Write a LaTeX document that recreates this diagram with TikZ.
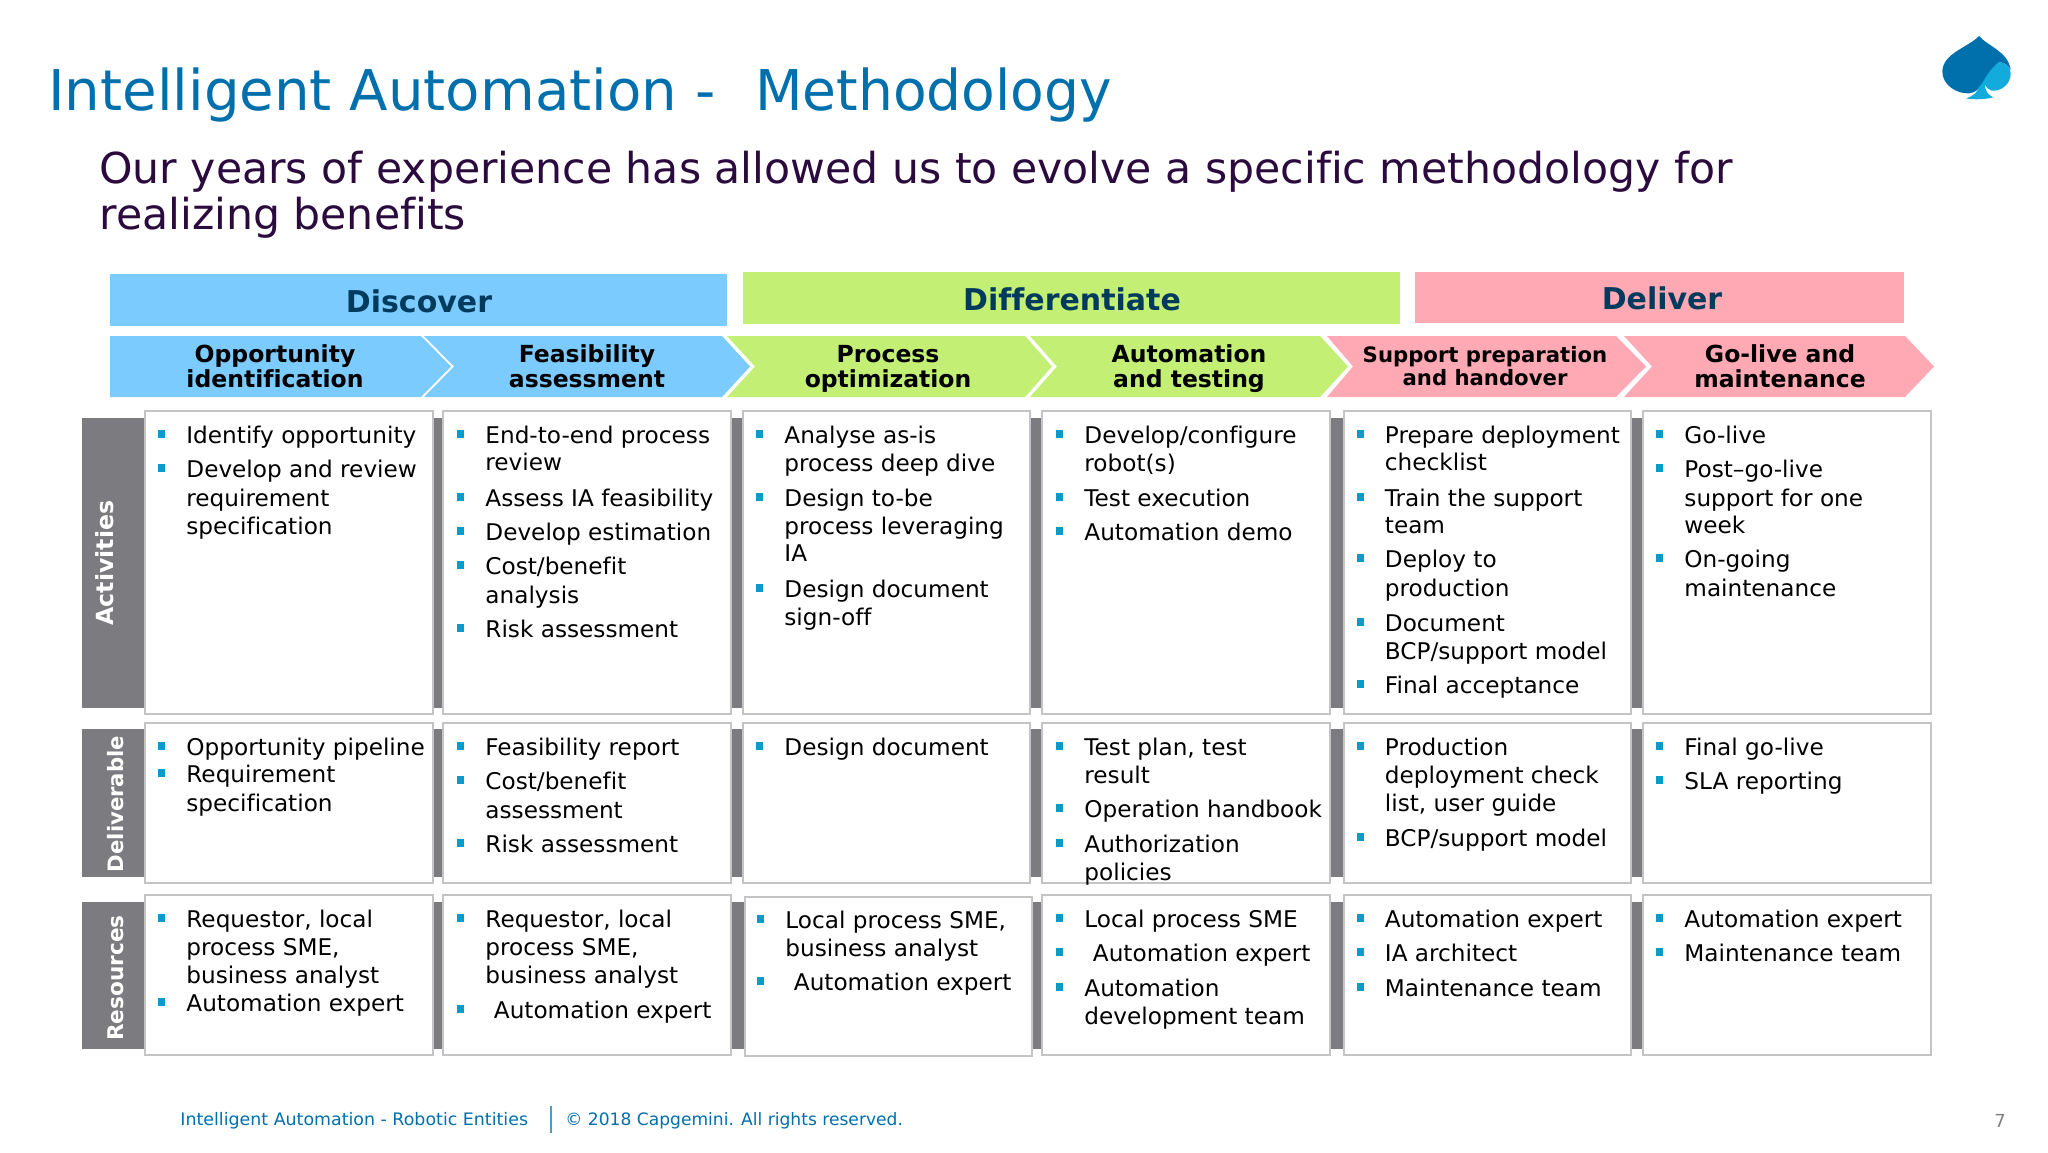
\documentclass[tikz,border=0pt]{standalone}
\usepackage{fontspec}
\setmainfont[Ligatures=NoCommon]{DejaVu Sans}
\newfontfamily\bodyfont[FakeStretch=1.008,Ligatures=NoCommon]{DejaVu Sans}
\newfontfamily\footfont[FakeStretch=1.012,Ligatures=NoCommon]{DejaVu Sans}
\newfontfamily\titlenarrow[FakeStretch=0.98,Ligatures=NoCommon]{DejaVu Sans}
\definecolor{capblue}{HTML}{0070AD}
\definecolor{capsky}{HTML}{12ABDB}
\definecolor{titlepurple}{HTML}{2B0A3D}
\definecolor{bandblue}{HTML}{7BCBFF}
\definecolor{bandgreen}{HTML}{C3EF75}
\definecolor{bandpink}{HTML}{FFA9B5}
\definecolor{bandtext}{HTML}{003A5D}
\definecolor{railgray}{HTML}{7C7B7F}
\definecolor{cellline}{HTML}{C4C4C6}
\definecolor{bulletblue}{HTML}{0A9BC9}
\newcounter{lineno}
\newcommand{\tl}[3]{\stepcounter{lineno}\node[bodytext,name=line\arabic{lineno}] at (#1,#2) {#3};}
\newcommand{\bl}[4][0]{\stepcounter{lineno}\node[bulletmark,name=mark\arabic{lineno}] at ({#2-24.5},{#3-8.7}) {};\node[bodytext,name=line\arabic{lineno}] at ({#2+#1},#3) {#4};}
\tikzset{
 bodytext/.style={anchor=base west,inner sep=0pt,font=\bodyfont\fontsize{11.5}{14}\selectfont,text=black},
 bulletmark/.style={rectangle,fill=bulletblue,minimum width=3.5pt,minimum height=4pt,inner sep=0pt},
 band/.style={anchor=base,inner sep=0pt,font=\fontsize{15}{18}\selectfont\bfseries,text=bandtext},
 chevtext/.style={anchor=base,inner sep=0pt,font=\fontsize{11.75}{14}\selectfont\bfseries,text=black},
 chevsmall/.style={anchor=base,inner sep=0pt,font=\fontsize{10.6}{13}\selectfont\bfseries,text=black},
 cell/.style={draw=cellline,line width=0.6pt,fill=white},
 rowlabel/.style={rotate=90,anchor=base,inner sep=0pt,text=white},
 foot/.style={anchor=base west,inner sep=0pt,font=\footfont\fontsize{8.6}{10}\selectfont,text=capblue}
}
\begin{document}
\begin{tikzpicture}[x=0.5pt,y=-0.5pt]
\useasboundingbox (0,0) rectangle (2048,1152);
\fill[white] (0,0) rectangle (2048,1152);
% title
\node[anchor=base west,inner sep=0pt,font=\fontsize{28.1}{34}\selectfont,text=capblue] (title) at (48,110) {Intelligent Automation -\hspace{0.71em}{\titlenarrow\fontsize{28.1}{34}\selectfont Methodology}};
\node[anchor=base west,inner sep=0pt,font=\fontsize{21.3}{27}\selectfont,text=titlepurple] (sub1) at (99,183) {Our years of experience has allowed us to evolve a specific methodology for};
\node[anchor=base west,inner sep=0pt,font=\fontsize{21.3}{27}\selectfont,text=titlepurple] (sub2) at (99,229) {realizing benefits};
% logo
\begin{scope}[shift={(1900,10)},x=0.16667pt,y=-0.16667pt]
\fill[capblue] (237,78) .. controls (205,112) and (127,130) .. (127,185) .. controls (127,225) and (170,252) .. (207,250) .. controls (245,248) and (250,200) .. (295,158) .. controls (310,155) and (325,165) .. (332,180) .. controls (325,125) and (265,110) .. (237,78) -- cycle;
\fill[capsky] (295,158) .. controls (315,155) and (332,170) .. (332,190) .. controls (332,225) and (300,245) .. (275,242) .. controls (265,240) and (258,232) .. (255,222) .. controls (255,245) and (265,255) .. (280,262) .. controls (255,268) and (225,270) .. (198,265) .. controls (220,258) and (235,245) .. (235,232) .. controls (250,225) and (255,190) .. (295,158) -- cycle;
\end{scope}
% phase bands
\fill[bandblue] (110,274) rectangle (727,326);
\fill[bandgreen] (743,272) rectangle (1400,324);
\fill[bandpink] (1415,272) rectangle (1904,323);
\node[band] (discover) at (419,312) {Discover};
\node[band] (differentiate) at (1072,310) {Differentiate};
\node[band] (deliver) at (1662,309) {Deliver};
% chevrons
\fill[bandblue] (110,336) -- (421,336) -- (451,366.5) -- (421,397) -- (110,397) -- cycle;
\fill[bandblue] (424,336) -- (722,336) -- (750,366.5) -- (722,397) -- (424,397) -- (454,366.5) -- cycle;
\fill[bandgreen] (727,336) -- (1025,336) -- (1052,366.5) -- (1025,397) -- (727,397) -- (755,366.5) -- cycle;
\fill[bandgreen] (1030,336) -- (1320,336) -- (1348,366.5) -- (1320,397) -- (1030,397) -- (1057,366.5) -- cycle;
\fill[bandpink] (1327,336) -- (1616,336) -- (1646,366.5) -- (1616,397) -- (1327,397) -- (1353,366.5) -- cycle;
\fill[bandpink] (1624,336) -- (1905,336) -- (1934,366.5) -- (1905,397) -- (1624,397) -- (1652,366.5) -- cycle;
\node[chevtext] (c1a) at (275,362) {Opportunity};
\node[chevtext] (c1b) at (275,387) {identification};
\node[chevtext] (c2a) at (587,362) {Feasibility};
\node[chevtext] (c2b) at (587,387) {assessment};
\node[chevtext] (c3a) at (888,362) {Process};
\node[chevtext] (c3b) at (888,387) {optimization};
\node[chevtext] (c4a) at (1189,362) {Automation};
\node[chevtext] (c4b) at (1189,387) {and testing};
\node[chevsmall] (c5a) at (1485,362) {Support preparation};
\node[chevsmall] (c5b) at (1485,385) {and handover};
\node[chevtext] (c6a) at (1780,362) {Go-live and};
\node[chevtext] (c6b) at (1780,387) {maintenance};
% gray rails
\fill[railgray] (82,418) rectangle (1643,708);
\fill[railgray] (82,729) rectangle (1643,877);
\fill[railgray] (82,902) rectangle (1643,1049);
\node[rowlabel,font=\fontsize{11.8}{14}\selectfont\bfseries] (activities) at (113.6,563) {Activities};
\node[rowlabel,font=\fontsize{10.6}{13}\selectfont\bfseries] (deliverable) at (123.8,804) {Deliverable};
\node[rowlabel,font=\fontsize{10.8}{13}\selectfont\bfseries] (resources) at (123.8,978) {Resources};
% cells
\foreach \xa/\xb in {145/433,443/731,743/1030,1042/1330,1344/1631,1643/1931}{
  \draw[cell] (\xa,411) rectangle (\xb,714);
  \draw[cell] (\xa,723) rectangle (\xb,883);
}
\foreach \xa/\xb in {145/433,443/731,1042/1330,1344/1631,1643/1931}{
  \draw[cell] (\xa,895) rectangle (\xb,1055);
}
\draw[cell] (745,897) rectangle (1032,1056);
% column 1
\bl{186}{443}{Identify opportunity}
\bl{186}{477}{Develop and review}
\tl{186}{506}{requirement}
\tl{186}{534}{specification}
\bl{186}{755}{Opportunity pipeline}
\bl{186}{782}{Requirement}
\tl{186}{811}{specification}
\bl{186}{927}{Requestor, local}
\tl{186}{955}{process SME,}
\tl{186}{983}{business analyst}
\bl{186}{1011}{Automation expert}
% column 2
\bl{485}{443}{End-to-end process}
\tl{485}{470}{review}
\bl{485}{506}{Assess IA feasibility}
\bl{485}{540}{Develop estimation}
\bl{485}{574}{Cost/benefit}
\tl{485}{603}{analysis}
\bl{485}{637}{Risk assessment}
\bl{485}{755}{Feasibility report}
\bl{485}{789}{Cost/benefit}
\tl{485}{818}{assessment}
\bl{485}{852}{Risk assessment}
\bl{485}{927}{Requestor, local}
\tl{485}{955}{process SME,}
\tl{485}{983}{business analyst}
\bl[8.5]{485}{1018}{Automation expert}
% column 3
\bl{784}{443}{Analyse as-is}
\tl{784}{471}{process deep dive}
\bl{784}{506}{Design to-be}
\tl{784}{534}{process leveraging}
\tl{784}{561}{IA}
\bl{784}{597}{Design document}
\tl{784}{625}{sign-off}
\bl{784}{755}{Design document}
\bl{785}{928}{Local process SME,}
\tl{785}{956}{business analyst}
\bl[8.5]{785}{990}{Automation expert}
% column 4
\bl{1084}{443}{Develop/configure}
\tl{1084}{471}{robot(s)}
\bl{1084}{506}{Test execution}
\bl{1084}{540}{Automation demo}
\bl{1084}{755}{Test plan, test}
\tl{1084}{783}{result}
\bl{1084}{817}{Operation handbook}
\bl{1084}{852}{Authorization}
\tl{1084}{880}{policies}
\bl{1084}{927}{Local process SME}
\bl[8.5]{1084}{961}{Automation expert}
\bl{1084}{996}{Automation}
\tl{1084}{1024}{development team}
% column 5
\bl{1384.5}{443}{Prepare deployment}
\tl{1384.5}{470}{checklist}
\bl{1384.5}{506}{Train the support}
\tl{1384.5}{533}{team}
\bl{1384.5}{567}{Deploy to}
\tl{1384.5}{596}{production}
\bl{1384.5}{631}{Document}
\tl{1384.5}{659}{BCP/support model}
\bl{1384.5}{693}{Final acceptance}
\bl{1384.5}{755}{Production}
\tl{1384.5}{783}{deployment check}
\tl{1384.5}{811}{list, user guide}
\bl{1384.5}{846}{BCP/support model}
\bl{1384.5}{927}{Automation expert}
\bl{1384.5}{961}{IA architect}
\bl{1384.5}{996}{Maintenance team}
% column 6
\bl{1684}{443}{Go-live}
\bl{1684}{477}{Post–go-live}
\tl{1684}{506}{support for one}
\tl{1684}{533}{week}
\bl{1684}{567}{On-going}
\tl{1684}{596}{maintenance}
\bl{1684}{755}{Final go-live}
\bl{1684}{789}{SLA reporting}
\bl{1684}{927}{Automation expert}
\bl{1684}{961}{Maintenance team}
% footer
\node[foot] (f1) at (180,1125) {Intelligent Automation - Robotic Entities};
\coordinate (ruleTop) at (551,1106);
\coordinate (ruleBot) at (551,1133);
\draw[capblue!70,line width=0.6pt] (ruleTop) -- (ruleBot);
\node[foot,font=\fontsize{8.55}{10}\selectfont] (f2) at (565,1125) {© 2018 Capgemini. All rights reserved.};
\node[anchor=base west,inner sep=0pt,font=\fontsize{9}{10}\selectfont,text=gray] (pageno) at (1994,1127) {7};
\end{tikzpicture}
\end{document}
